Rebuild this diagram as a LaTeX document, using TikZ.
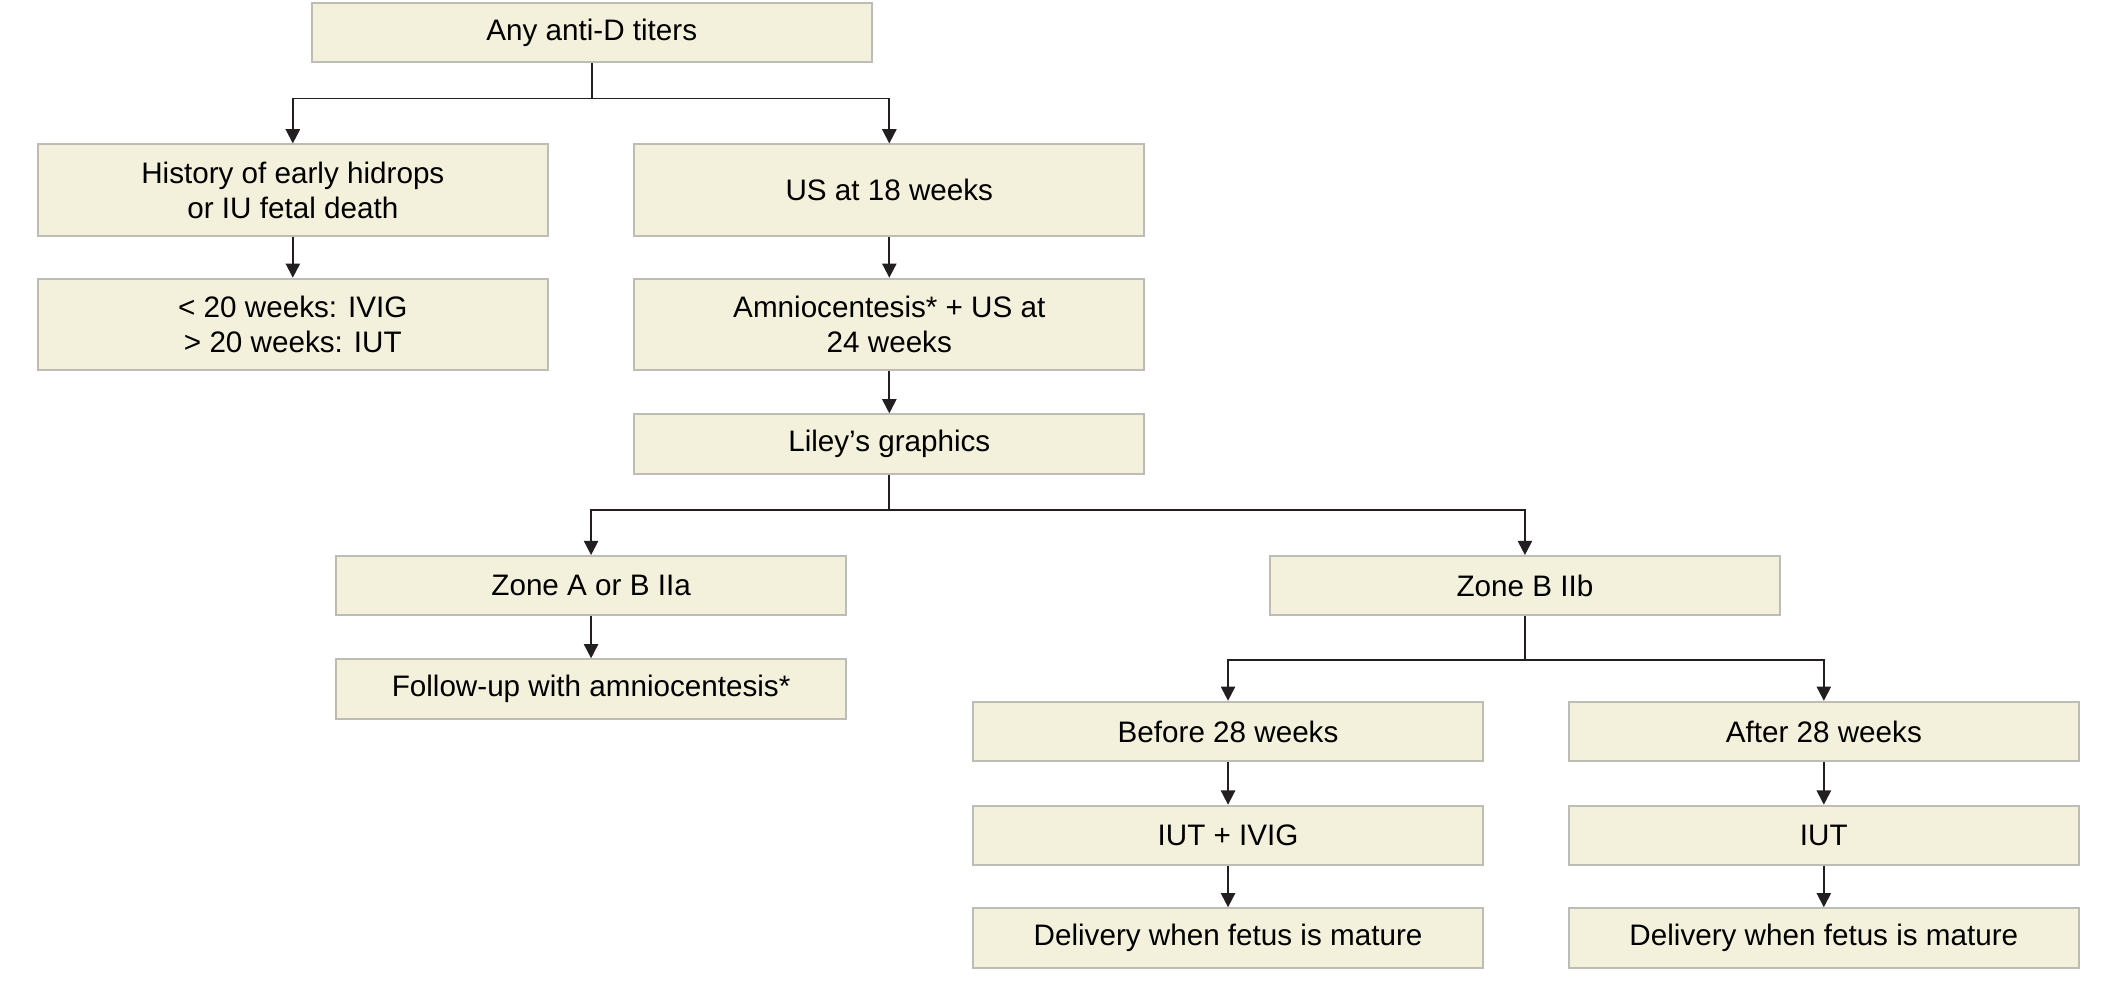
\documentclass[tikz,border=0pt]{standalone}
\usepackage{fontspec}
\setmainfont{Liberation Sans}
\usetikzlibrary{arrows.meta}
\definecolor{boxfill}{HTML}{F3F1DC}
\definecolor{boxline}{HTML}{BDBDB6}
\definecolor{arr}{HTML}{231F20}
\begin{document}
\begin{tikzpicture}[x=0.02cm, y=-0.02cm,
    box/.style={draw=boxline, fill=boxfill, line width=0.8pt, minimum width=7.56cm,
      minimum height=0.88cm, align=center, inner sep=2pt, font=\fontsize{12.5}{15}\selectfont},
    tall/.style={minimum height=1.36cm},
    link/.style={draw=arr, line width=0.8pt, -{Triangle[length=6pt,width=6pt]}},
    line/.style={draw=arr, line width=0.8pt}]
    \useasboundingbox (0,0) rectangle (1568,743);
    % boxes
    \node[box, minimum width=8.3cm] (anti) at (438.5,24) {Any anti-D titers};
    \node[box, tall] (hist) at (217,141) {History of early hidrops\\or IU fetal death};
    \node[box, tall] (us) at (659,141) {US at 18 weeks};
    \node[box, tall] (ivig) at (217,240.5) {< 20 weeks: IVIG\\> 20 weeks: IUT};
    \node[box, tall] (amnio) at (659,240.5) {Amniocentesis* + US at\\24 weeks};
    \node[box] (liley) at (659,329) {Liley's graphics};
    \node[box] (zoneA) at (438,434) {Zone A or B IIa};
    \node[box] (zoneB) at (1130,434) {Zone B IIb};
    \node[box] (follow) at (438,510.5) {Follow-up with amniocentesis*};
    \node[box] (before) at (910,542) {Before 28 weeks};
    \node[box] (after) at (1351.5,542) {After 28 weeks};
    \node[box] (iutivig) at (910,619) {IUT + IVIG};
    \node[box] (iut) at (1351.5,619) {IUT};
    \node[box] (delA) at (910,695) {Delivery when fetus is mature};
    \node[box] (delB) at (1351.5,695) {Delivery when fetus is mature};
    % branch points
    \coordinate (j1) at (438.5,73);
    \coordinate (j2) at (659,378);
    \coordinate (j3) at (1130,489);
    \draw[line] (anti) -- (j1);
    \draw[link] (j1) -| (hist);
    \draw[link] (j1) -| (us);
    \draw[line] (liley) -- (j2);
    \draw[link] (j2) -| (zoneA);
    \draw[link] (j2) -| (zoneB);
    \draw[line] (zoneB) -- (j3);
    \draw[link] (j3) -| (before);
    \draw[link] (j3) -| (after);
    % straight links
    \draw[link] (hist) -- (ivig);
    \draw[link] (us) -- (amnio);
    \draw[link] (amnio) -- (liley);
    \draw[link] (zoneA) -- (follow);
    \draw[link] (before) -- (iutivig);
    \draw[link] (iutivig) -- (delA);
    \draw[link] (after) -- (iut);
    \draw[link] (iut) -- (delB);
\end{tikzpicture}
\end{document}
